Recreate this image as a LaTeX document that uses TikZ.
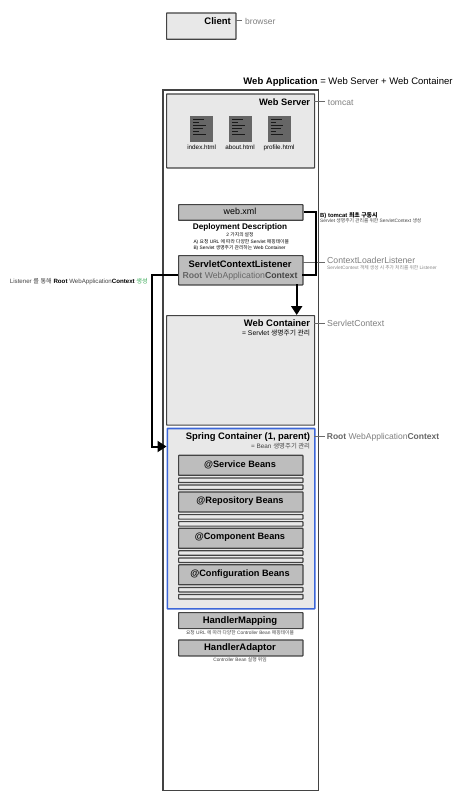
\documentclass[tikz,border=0pt]{standalone}
\usepackage{fontspec}
\setmainfont{Liberation Sans}
\newfontfamily\kr{Noto Sans CJK KR}
\usetikzlibrary{arrows.meta}
\definecolor{strokedark}{HTML}{434343}
\definecolor{panelfill}{HTML}{E8E8E8}
\definecolor{darkfill}{HTML}{BDBDBD}
\definecolor{bluestroke}{HTML}{3C66D8}
\definecolor{labelgray}{HTML}{7F7F7F}
\definecolor{rootgray}{HTML}{666666}
\definecolor{smallgray}{HTML}{8A8A8A}
\definecolor{greentext}{HTML}{34A853}
\definecolor{docfill}{HTML}{666666}
\newcommand{\K}[1]{{\kr #1}}
\newcommand{\fs}[1]{\fontsize{#1}{#1}\selectfont}
\tikzset{
  panel/.style={draw=strokedark,line width=1.2pt,fill=panelfill,rounded corners=0.5pt,inner sep=0pt,anchor=north west},
  frame/.style={draw=strokedark,line width=1.2pt,fill=white,inner sep=0pt,anchor=north west},
  darkbox/.style={panel,fill=darkfill},
  strip/.style={panel,fill=panelfill},
  springbox/.style={panel,draw=bluestroke,line width=1.6pt},
  txt/.style={inner sep=0pt,text=black},
  lft/.style={txt,anchor=base west},
  rgt/.style={txt,anchor=base east},
  ctr/.style={txt,anchor=base},
  leader/.style={draw=strokedark!80,line width=0.8pt},
  flow/.style={draw=black,line width=2pt},
  flowtip/.style={flow,-{Triangle[length=9pt,width=11pt]}},
  docbox/.style={fill=docfill,draw=none,inner sep=0pt,anchor=north west,minimum width=23pt,minimum height=26pt},
  docline/.style={draw=black!90,line width=1.1pt},
  pics/docicon/.style={code={
    \draw[docline] (3.3,3.6) -- (14.3,3.6);
    \draw[docline] (3.3,7) -- (9,7);
    \draw[docline] (3.3,10) -- (16,10);
    \draw[docline] (3.3,13) -- (13.3,13);
    \draw[docline] (3.3,16) -- (9,16);
    \draw[docline] (3.3,18.7) -- (16,18.7);
  }}
}
\begin{document}
\begin{tikzpicture}[x=1pt,y=-1pt]
\useasboundingbox[fill=white] (0,0) rectangle (474,801);
% boxes
\node[panel,minimum width=69.3pt,minimum height=26.4pt] (client) at (166,12.3) {};
\node[frame,minimum width=155.7pt,minimum height=700.7pt] (app) at (162.3,89.3) {};
\node[panel,minimum width=148pt,minimum height=74pt] (server) at (166,93.3) {};
\node[docbox] (doca) at (190,115.7) {};
\node[docbox] (docb) at (228.7,115.7) {};
\node[docbox] (docc) at (267.3,115.7) {};
\pic at (190,115.7) {docicon};
\pic at (228.7,115.7) {docicon};
\pic at (267.3,115.7) {docicon};
\node[darkbox,minimum width=124.3pt,minimum height=15.7pt] (webxml) at (178,204) {};
\node[darkbox,minimum width=124.3pt,minimum height=29.3pt] (listener) at (178,255) {};
\node[panel,minimum width=148pt,minimum height=109.5pt] (container) at (166,315) {};
\node[springbox,minimum width=147.5pt,minimum height=180.3pt] (spring) at (166.5,427.7) {};
\node[darkbox,minimum width=124.3pt,minimum height=20pt] (service) at (178,454.7) {};
\node[strip,minimum width=124.3pt,minimum height=4.5pt] (s1) at (178,477.4) {};
\node[strip,minimum width=124.3pt,minimum height=4.5pt] (s2) at (178,484.3) {};
\node[darkbox,minimum width=124.3pt,minimum height=20pt] (repo) at (178,491.3) {};
\node[strip,minimum width=124.3pt,minimum height=4.5pt] (r1) at (178,514) {};
\node[strip,minimum width=124.3pt,minimum height=4.5pt] (r2) at (178,521) {};
\node[darkbox,minimum width=124.3pt,minimum height=20pt] (component) at (178,527.7) {};
\node[strip,minimum width=124.3pt,minimum height=4.5pt] (c1) at (178,550.2) {};
\node[strip,minimum width=124.3pt,minimum height=4.5pt] (c2) at (178,557.3) {};
\node[darkbox,minimum width=124.3pt,minimum height=20pt] (config) at (178,564.2) {};
\node[strip,minimum width=124.3pt,minimum height=4.5pt] (g1) at (178,586.8) {};
\node[strip,minimum width=124.3pt,minimum height=4.5pt] (g2) at (178,593.8) {};
\node[darkbox,minimum width=124.3pt,minimum height=16pt] (mapping) at (178,612) {};
\node[darkbox,minimum width=124.3pt,minimum height=16pt] (adaptor) at (178,639.3) {};
% texts
\node[rgt,font=\bfseries\fs{9.5}] (tclient) at (231,24) {Client};
\node[lft,text=labelgray,font=\fs{8.5}] (tbrowser) at (245,24) {browser};
\node[rgt,font=\fs{9.5}] (tapp) at (452.7,84) {\textbf{Web Application} = Web Server + Web Container};
\node[rgt,font=\bfseries\fs{9.3}] (tserver) at (310.3,105.3) {Web Server};
\node[lft,text=labelgray,font=\fs{8.5}] (ttomcat) at (327.7,105.3) {tomcat};
\node[ctr,font=\fs{6.3}] (tindex) at (201.7,149) {index.html};
\node[ctr,font=\fs{6.3}] (tabout) at (240,149) {about.html};
\node[ctr,font=\fs{6.3}] (tprofile) at (279,149) {profile.html};
\node[ctr,font=\fs{8.9}] (twebxml) at (240,214.7) {web.xml};
\node[ctr,font=\bfseries\fs{8.2}] (tdd) at (240,229) {Deployment Description};
\node[ctr,font=\fs{4.8}] (t2) at (240,236) {2 \K{가지의 설정}};
\node[lft,font=\fs{4.8}] (ta) at (193.3,243.7) {A) \K{요청} URL \K{에 따라 다양한} Servlet \K{매핑테이블}};
\node[lft,font=\fs{4.8}] (tb) at (193.3,249.7) {B) Servlet \K{생명주기 관리하는} Web Container};
\node[ctr,font=\bfseries\fs{9.4}] (tscl) at (240,267) {ServletContextListener};
\node[ctr,font=\fs{8.7},text=rootgray] (troot) at (240,278.3) {\textbf{Root} WebApplication\textbf{\textcolor{strokedark}{Context}}};
\node[lft,font=\bfseries\fs{5.9}] (tfirst) at (320,217) {B) tomcat \K{최초 구동시}};
\node[lft,font=\fs{4.8},text=strokedark] (tfirstb) at (320,222.3) {Servlet \K{생명주기 관리를 위한} ServletContext \K{생성}};
\node[lft,font=\fs{8.7},text=labelgray] (tcll) at (327,263.7) {ContextLoaderListener};
\node[lft,font=\fs{4.8},text=smallgray] (tcllb) at (327,269) {ServletContext \K{객체 생성 시 추가 처리를 위한} Listener};
\node[lft,font=\fs{8.7},text=labelgray] (tsc) at (327,326.3) {ServletContext};
\node[rgt,font=\bfseries\fs{9.4}] (tcontainer) at (310.3,326.7) {Web Container};
\node[rgt,font=\fs{6.8}] (tcontainerb) at (310.3,335.7) {= Servlet \K{생명주기 관리}};
\node[rgt,font=\bfseries\fs{9.4}] (tspring) at (310.3,439.3) {Spring Container (1, parent)};
\node[rgt,font=\fs{6.4},text=strokedark] (tspringb) at (310.3,448.3) {= Bean \K{생명주기 관리}};
\node[lft,font=\fs{8.5},text=labelgray] (trwac) at (326.7,439.3) {\textbf{\textcolor{rootgray}{Root}} WebApplication\textbf{\textcolor{rootgray}{Context}}};
\node[lft,font=\fs{6.15},text=strokedark] (tlistener) at (9.7,283.3) {Listener \K{를 통해} \textbf{\textcolor{black}{Root}} WebApplication\textbf{\textcolor{black}{Context}} \textcolor{greentext}{\K{생성}}};
\node[ctr,font=\bfseries\fs{9.2}] (tservice) at (240,467) {@Service Beans};
\node[ctr,font=\bfseries\fs{9.2}] (trepo) at (240,503.3) {@Repository Beans};
\node[ctr,font=\bfseries\fs{9.2}] (tcomponent) at (240,539.7) {@Component Beans};
\node[ctr,font=\bfseries\fs{9.2}] (tconfig) at (240,576) {@Configuration Beans};
\node[ctr,font=\bfseries\fs{9.5}] (tmapping) at (240,623.3) {HandlerMapping};
\node[ctr,font=\bfseries\fs{9.5}] (tadaptor) at (240,650.7) {HandlerAdaptor};
\node[ctr,font=\fs{4.8},text=strokedark] (tmapb) at (240,634.3) {\K{요청} URL \K{에 따라 다양한} Controller Bean \K{매핑테이블}};
\node[ctr,font=\fs{4.8},text=strokedark] (tadapb) at (240,661.7) {Controller Bean \K{실행 위임}};
% anchors for connectors
\coordinate (clientl) at (236,20.7);
\coordinate (browserl) at (241.5,20.7);
\coordinate (serverl) at (314,101.7);
\coordinate (tomcatl) at (325,101.7);
\coordinate (listenerr) at (302.3,275);
\coordinate (listenerl) at (178,275);
\coordinate (listenerup) at (302.3,262.5);
\coordinate (cllin) at (325,262.5);
\coordinate (containerr) at (314,323);
\coordinate (scl) at (325,323);
\coordinate (springr) at (314,436.6);
\coordinate (rwacl) at (325,436.6);
\coordinate (listenerb) at (296.7,284.3);
\coordinate (containert) at (296.7,315);
\coordinate (springl) at (166.5,446.5);
% connectors
\draw[leader] (clientl) -- (browserl);
\draw[leader] (serverl) -- (tomcatl);
\draw[leader] (listenerup) -- (cllin);
\draw[leader] (containerr) -- (scl);
\draw[leader] (springr) -- (rwacl);
\draw[flow] (webxml.east) -- ++(12,0) |- (listenerr);
\draw[flowtip] (listenerb) -- (containert);
\draw[flowtip] (listenerl) -| (151.5,380) |- (springl);
\end{tikzpicture}
\end{document}
